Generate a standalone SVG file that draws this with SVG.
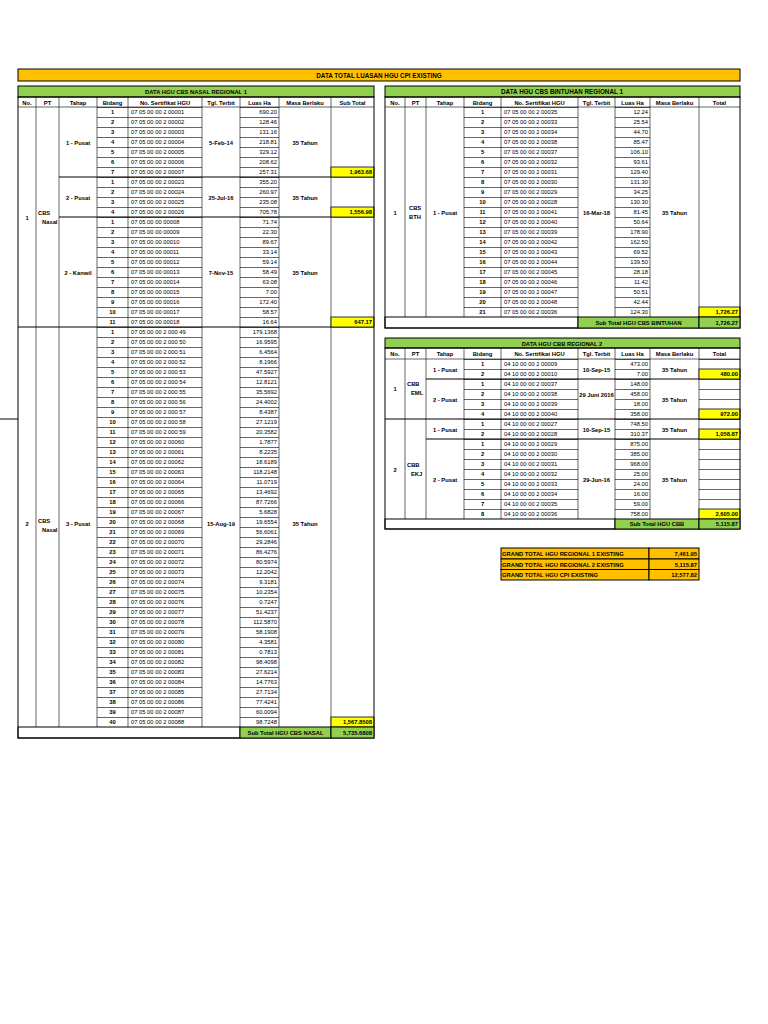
<svg xmlns="http://www.w3.org/2000/svg" width="768" height="1024" viewBox="0 0 768 1024">
<style>
text{font-family:"Liberation Sans",Arial,sans-serif;font-size:5.8px;fill:#000}
.b{font-weight:bold}
.h{font-weight:bold;font-size:6.3px}
.c{text-anchor:middle}
.r{text-anchor:end}
.g{fill:#92D050;stroke:#000;stroke-width:1}
.y{fill:#FFFF00;stroke:#000;stroke-width:0.8}
.o{fill:#FFC000;stroke:#000;stroke-width:1}
.box{fill:none;stroke:#000;stroke-width:1}
.thk{fill:none;stroke:#000;stroke-width:1.2}
.ln{fill:none;stroke:#000;stroke-width:0.6}
</style>
<defs>
<pattern id="rl7" patternUnits="userSpaceOnUse" x="0" y="7" width="10" height="10"><rect width="10" height="0.6" fill="#000"/></pattern>
<pattern id="rl9" patternUnits="userSpaceOnUse" x="0" y="9" width="10" height="10"><rect width="10" height="0.6" fill="#000"/></pattern>
</defs>
<rect width="768" height="1024" fill="#fff"/>
<g id="title"><rect class="o" x="18" y="69" width="722" height="12"/><text class="h c" x="379" y="77.5">DATA TOTAL LUASAN HGU CPI EXISTING</text></g>

<g id="left-table">
<rect class="g" x="18" y="86" width="356" height="11"/><text class="b c" x="196" y="94">DATA HGU CBS NASAL REGIONAL 1</text>
<rect fill="url(#rl7)" x="97" y="107" width="105" height="620"/>
<rect fill="url(#rl7)" x="240" y="107" width="39" height="620"/>
<g class="b c">
<text x="27" y="104.5">No.</text><text x="47.5" y="104.5">PT</text><text x="78" y="104.5">Tahap</text><text x="112.5" y="104.5">Bidang</text><text x="165" y="104.5">No. Sertifikat HGU</text><text x="221" y="104.5">Tgl. Terbit</text><text x="259.5" y="104.5">Luas Ha</text><text x="305" y="104.5">Masa Berlaku</text><text x="352.5" y="104.5">Sub Total</text>
</g>
<path class="ln" d="M18 107H374M36 97V727M59 97V727M97 97V727M128 97V727M202 97V727M240 97V727M279 97V727M331 97V727"/>
<path class="thk" d="M59 177H374M59 217H374M18 327H374"/>
<rect class="y" x="331" y="167" width="43" height="10"/><text class="b r" x="372" y="174.3">1,963.68</text>
<rect class="y" x="331" y="207" width="43" height="10"/><text class="b r" x="372" y="214.3">1,556.98</text>
<rect class="y" x="331" y="317" width="43" height="10"/><text class="b r" x="372" y="324.3">647.17</text>
<rect class="y" x="331" y="717" width="43" height="10"/><text class="b r" x="372" y="724.3">1,567.8508</text>
<rect class="box" x="18" y="97" width="356" height="641"/>
<rect class="box" x="18" y="727" width="222" height="11"/>
<rect class="g" x="240" y="727" width="91" height="11"/><text class="b c" x="285.5" y="734.5">Sub Total HGU CBS NASAL</text>
<rect class="g" x="331" y="727" width="43" height="11"/><text class="b r" x="372" y="734.5">5,735.6808</text>
<g class="b">
<text class="c" x="27" y="220">1</text><text x="38" y="215">CBS</text><text x="42" y="224">Nasal</text>
<text class="c" x="78" y="144.5">1 - Pusat</text><text class="c" x="221" y="144.5">5-Feb-14</text><text class="c" x="305" y="144.5">35 Tahun</text>
<text class="c" x="78" y="199.5">2 - Pusat</text><text class="c" x="221" y="199.5">25-Jul-16</text><text class="c" x="305" y="199.5">35 Tahun</text>
<text class="c" x="78" y="274.5">2 - Kanwil</text><text class="c" x="221" y="274.5">7-Nov-15</text><text class="c" x="305" y="274.5">35 Tahun</text>
<text class="c" x="27" y="525.5">2</text><text x="38" y="523">CBS</text><text x="42" y="532">Nasal</text>
<text class="c" x="78" y="525.5">3 - Pusat</text><text class="c" x="221" y="525.5">15-Aug-19</text><text class="c" x="305" y="525.5">35 Tahun</text>
</g>
<g class="b c">
<text x="112.5" y="114.3">1</text><text x="112.5" y="124.3">2</text><text x="112.5" y="134.3">3</text><text x="112.5" y="144.3">4</text><text x="112.5" y="154.3">5</text><text x="112.5" y="164.3">6</text><text x="112.5" y="174.3">7</text>
<text x="112.5" y="184.3">1</text><text x="112.5" y="194.3">2</text><text x="112.5" y="204.3">3</text><text x="112.5" y="214.3">4</text>
<text x="112.5" y="224.3">1</text><text x="112.5" y="234.3">2</text><text x="112.5" y="244.3">3</text><text x="112.5" y="254.3">4</text><text x="112.5" y="264.3">5</text><text x="112.5" y="274.3">6</text><text x="112.5" y="284.3">7</text><text x="112.5" y="294.3">8</text><text x="112.5" y="304.3">9</text><text x="112.5" y="314.3">10</text><text x="112.5" y="324.3">11</text>
<text x="112.5" y="334.3">1</text><text x="112.5" y="344.3">2</text><text x="112.5" y="354.3">3</text><text x="112.5" y="364.3">4</text><text x="112.5" y="374.3">5</text><text x="112.5" y="384.3">6</text><text x="112.5" y="394.3">7</text><text x="112.5" y="404.3">8</text><text x="112.5" y="414.3">9</text><text x="112.5" y="424.3">10</text>
<text x="112.5" y="434.3">11</text><text x="112.5" y="444.3">12</text><text x="112.5" y="454.3">13</text><text x="112.5" y="464.3">14</text><text x="112.5" y="474.3">15</text><text x="112.5" y="484.3">16</text><text x="112.5" y="494.3">17</text><text x="112.5" y="504.3">18</text><text x="112.5" y="514.3">19</text><text x="112.5" y="524.3">20</text>
<text x="112.5" y="534.3">21</text><text x="112.5" y="544.3">22</text><text x="112.5" y="554.3">23</text><text x="112.5" y="564.3">24</text><text x="112.5" y="574.3">25</text><text x="112.5" y="584.3">26</text><text x="112.5" y="594.3">27</text><text x="112.5" y="604.3">28</text><text x="112.5" y="614.3">29</text><text x="112.5" y="624.3">30</text>
<text x="112.5" y="634.3">31</text><text x="112.5" y="644.3">32</text><text x="112.5" y="654.3">33</text><text x="112.5" y="664.3">34</text><text x="112.5" y="674.3">35</text><text x="112.5" y="684.3">36</text><text x="112.5" y="694.3">37</text><text x="112.5" y="704.3">38</text><text x="112.5" y="714.3">39</text><text x="112.5" y="724.3">40</text>
</g>
<g>
<text x="131" y="114.3">07 05 00 00 2 00001</text><text x="131" y="124.3">07 05 00 00 2 00002</text><text x="131" y="134.3">07 05 00 00 2 00003</text><text x="131" y="144.3">07 05 00 00 2 00004</text><text x="131" y="154.3">07 05 00 00 2 00005</text><text x="131" y="164.3">07 05 00 00 2 00006</text><text x="131" y="174.3">07 05 00 00 2 00007</text>
<text x="131" y="184.3">07 05 00 00 2 00023</text><text x="131" y="194.3">07 05 00 00 2 00024</text><text x="131" y="204.3">07 05 00 00 2 00025</text><text x="131" y="214.3">07 05 00 00 2 00026</text>
<text x="131" y="224.3">07 05 00 00 00008</text><text x="131" y="234.3">07 05 00 00 00009</text><text x="131" y="244.3">07 05 00 00 00010</text><text x="131" y="254.3">07 05 00 00 00011</text><text x="131" y="264.3">07 05 00 00 00012</text><text x="131" y="274.3">07 05 00 00 00013</text><text x="131" y="284.3">07 05 00 00 00014</text><text x="131" y="294.3">07 05 00 00 00015</text><text x="131" y="304.3">07 05 00 00 00016</text><text x="131" y="314.3">07 05 00 00 00017</text><text x="131" y="324.3">07 05 00 00 00018</text>
<text x="131" y="334.3">07 05 00 00 2 000 49</text><text x="131" y="344.3">07 05 00 00 2 000 50</text><text x="131" y="354.3">07 05 00 00 2 000 51</text><text x="131" y="364.3">07 05 00 00 2 000 52</text><text x="131" y="374.3">07 05 00 00 2 000 53</text><text x="131" y="384.3">07 05 00 00 2 000 54</text><text x="131" y="394.3">07 05 00 00 2 000 55</text><text x="131" y="404.3">07 05 00 00 2 000 56</text><text x="131" y="414.3">07 05 00 00 2 000 57</text><text x="131" y="424.3">07 05 00 00 2 000 58</text>
<text x="131" y="434.3">07 05 00 00 2 000 59</text><text x="131" y="444.3">07 05 00 00 2 00060</text><text x="131" y="454.3">07 05 00 00 2 00061</text><text x="131" y="464.3">07 05 00 00 2 00062</text><text x="131" y="474.3">07 05 00 00 2 00063</text><text x="131" y="484.3">07 05 00 00 2 00064</text><text x="131" y="494.3">07 05 00 00 2 00065</text><text x="131" y="504.3">07 05 00 00 2 00066</text><text x="131" y="514.3">07 05 00 00 2 00067</text><text x="131" y="524.3">07 05 00 00 2 00068</text>
<text x="131" y="534.3">07 05 00 00 2 00069</text><text x="131" y="544.3">07 05 00 00 2 00070</text><text x="131" y="554.3">07 05 00 00 2 00071</text><text x="131" y="564.3">07 05 00 00 2 00072</text><text x="131" y="574.3">07 05 00 00 2 00073</text><text x="131" y="584.3">07 05 00 00 2 00074</text><text x="131" y="594.3">07 05 00 00 2 00075</text><text x="131" y="604.3">07 05 00 00 2 00076</text><text x="131" y="614.3">07 05 00 00 2 00077</text><text x="131" y="624.3">07 05 00 00 2 00078</text>
<text x="131" y="634.3">07 05 00 00 2 00079</text><text x="131" y="644.3">07 05 00 00 2 00080</text><text x="131" y="654.3">07 05 00 00 2 00081</text><text x="131" y="664.3">07 05 00 00 2 00082</text><text x="131" y="674.3">07 05 00 00 2 00083</text><text x="131" y="684.3">07 05 00 00 2 00084</text><text x="131" y="694.3">07 05 00 00 2 00085</text><text x="131" y="704.3">07 05 00 00 2 00086</text><text x="131" y="714.3">07 05 00 00 2 00087</text><text x="131" y="724.3">07 05 00 00 2 00088</text>
</g>
<g class="r">
<text x="277" y="114.3">690.20</text><text x="277" y="124.3">128.46</text><text x="277" y="134.3">131.16</text><text x="277" y="144.3">218.81</text><text x="277" y="154.3">329.12</text><text x="277" y="164.3">208.62</text><text x="277" y="174.3">257.31</text>
<text x="277" y="184.3">355.20</text><text x="277" y="194.3">260.97</text><text x="277" y="204.3">235.08</text><text x="277" y="214.3">705.78</text>
<text x="277" y="224.3">71.74</text><text x="277" y="234.3">22.30</text><text x="277" y="244.3">89.67</text><text x="277" y="254.3">33.14</text><text x="277" y="264.3">59.14</text><text x="277" y="274.3">58.49</text><text x="277" y="284.3">63.08</text><text x="277" y="294.3">7.00</text><text x="277" y="304.3">172.40</text><text x="277" y="314.3">58.57</text><text x="277" y="324.3">16.64</text>
<text x="277" y="334.3">179.1368</text><text x="277" y="344.3">16.9595</text><text x="277" y="354.3">6.4564</text><text x="277" y="364.3">8.1966</text><text x="277" y="374.3">47.5927</text><text x="277" y="384.3">12.8121</text><text x="277" y="394.3">35.5692</text><text x="277" y="404.3">24.4002</text><text x="277" y="414.3">8.4387</text><text x="277" y="424.3">27.1219</text>
<text x="277" y="434.3">20.3582</text><text x="277" y="444.3">1.7877</text><text x="277" y="454.3">8.2235</text><text x="277" y="464.3">18.6189</text><text x="277" y="474.3">118.2148</text><text x="277" y="484.3">11.0719</text><text x="277" y="494.3">13.4692</text><text x="277" y="504.3">87.7266</text><text x="277" y="514.3">5.6828</text><text x="277" y="524.3">19.6554</text>
<text x="277" y="534.3">56.6061</text><text x="277" y="544.3">29.2846</text><text x="277" y="554.3">86.4276</text><text x="277" y="564.3">80.5974</text><text x="277" y="574.3">12.2042</text><text x="277" y="584.3">9.3181</text><text x="277" y="594.3">10.2354</text><text x="277" y="604.3">0.7247</text><text x="277" y="614.3">51.4237</text><text x="277" y="624.3">112.5870</text>
<text x="277" y="634.3">58.1908</text><text x="277" y="644.3">4.3581</text><text x="277" y="654.3">0.7813</text><text x="277" y="664.3">98.4098</text><text x="277" y="674.3">27.6214</text><text x="277" y="684.3">14.7763</text><text x="277" y="694.3">27.7134</text><text x="277" y="704.3">77.4241</text><text x="277" y="714.3">60.0094</text><text x="277" y="724.3">98.7248</text>
</g>
</g>

<g id="right-top-table">
<rect class="g" x="385" y="86" width="355" height="11"/><text class="h c" x="562" y="94.3">DATA HGU CBS BINTUHAN REGIONAL 1</text>
<rect fill="url(#rl7)" x="464" y="107" width="114" height="210"/>
<rect fill="url(#rl7)" x="615" y="107" width="35" height="210"/>
<g class="b c">
<text x="395" y="104.5">No.</text><text x="415.5" y="104.5">PT</text><text x="445" y="104.5">Tahap</text><text x="482.5" y="104.5">Bidang</text><text x="539.5" y="104.5">No. Sertifikat HGU</text><text x="596.5" y="104.5">Tgl. Terbit</text><text x="632.5" y="104.5">Luas Ha</text><text x="674.5" y="104.5">Masa Berlaku</text><text x="719.5" y="104.5">Total</text>
</g>
<path class="ln" d="M385 107H740M405 97V317M426 97V317M464 97V317M501 97V317M578 97V317M615 97V317M650 97V317M699 97V317"/>
<rect class="y" x="699" y="307" width="41" height="10"/><text class="b r" x="738" y="314.3">1,726.27</text>
<rect class="box" x="385" y="97" width="355" height="231"/>
<rect class="box" x="385" y="317" width="193" height="11"/>
<rect class="g" x="578" y="317" width="121" height="11"/><text class="b c" x="638.5" y="324.5">Sub Total HGU CBS BINTUHAN</text>
<rect class="g" x="699" y="317" width="41" height="11"/><text class="b r" x="738" y="324.5">1,726.27</text>
<g class="b">
<text class="c" x="395" y="214.5">1</text><text x="409" y="210">CBS</text><text x="409" y="219">BTH</text>
<text class="c" x="445" y="214.5">1 - Pusat</text><text class="c" x="596.5" y="214.5">16-Mar-18</text><text class="c" x="674.5" y="214.5">35 Tahun</text>
</g>
<g class="b c">
<text x="482.5" y="114.3">1</text><text x="482.5" y="124.3">2</text><text x="482.5" y="134.3">3</text><text x="482.5" y="144.3">4</text><text x="482.5" y="154.3">5</text><text x="482.5" y="164.3">6</text><text x="482.5" y="174.3">7</text><text x="482.5" y="184.3">8</text><text x="482.5" y="194.3">9</text><text x="482.5" y="204.3">10</text><text x="482.5" y="214.3">11</text><text x="482.5" y="224.3">12</text><text x="482.5" y="234.3">13</text><text x="482.5" y="244.3">14</text><text x="482.5" y="254.3">15</text><text x="482.5" y="264.3">16</text><text x="482.5" y="274.3">17</text><text x="482.5" y="284.3">18</text><text x="482.5" y="294.3">19</text><text x="482.5" y="304.3">20</text><text x="482.5" y="314.3">21</text>
</g>
<g>
<text x="504" y="114.3">07 05 00 00 2 00035</text><text x="504" y="124.3">07 05 00 00 2 00033</text><text x="504" y="134.3">07 05 00 00 2 00034</text><text x="504" y="144.3">07 05 00 00 2 00038</text><text x="504" y="154.3">07 05 00 00 2 00037</text><text x="504" y="164.3">07 05 00 00 2 00032</text><text x="504" y="174.3">07 05 00 00 2 00031</text><text x="504" y="184.3">07 05 00 00 2 00030</text><text x="504" y="194.3">07 05 00 00 2 00029</text><text x="504" y="204.3">07 05 00 00 2 00028</text><text x="504" y="214.3">07 05 00 00 2 00041</text>
<text x="504" y="224.3">07 05 00 00 2 00040</text><text x="504" y="234.3">07 05 00 00 2 00039</text><text x="504" y="244.3">07 05 00 00 2 00042</text><text x="504" y="254.3">07 05 00 00 2 00043</text><text x="504" y="264.3">07 05 00 00 2 00044</text><text x="504" y="274.3">07 05 00 00 2 00045</text><text x="504" y="284.3">07 05 00 00 2 00046</text><text x="504" y="294.3">07 05 00 00 2 00047</text><text x="504" y="304.3">07 05 00 00 2 00048</text><text x="504" y="314.3">07 05 00 00 2 00036</text>
</g>
<g class="r">
<text x="648" y="114.3">12.24</text><text x="648" y="124.3">25.54</text><text x="648" y="134.3">44.70</text><text x="648" y="144.3">85.47</text><text x="648" y="154.3">106.10</text><text x="648" y="164.3">93.61</text><text x="648" y="174.3">129.40</text><text x="648" y="184.3">131.30</text><text x="648" y="194.3">34.25</text><text x="648" y="204.3">130.30</text><text x="648" y="214.3">81.45</text>
<text x="648" y="224.3">50.64</text><text x="648" y="234.3">178.90</text><text x="648" y="244.3">162.50</text><text x="648" y="254.3">69.52</text><text x="648" y="264.3">139.50</text><text x="648" y="274.3">28.18</text><text x="648" y="284.3">11.42</text><text x="648" y="294.3">50.51</text><text x="648" y="304.3">42.44</text><text x="648" y="314.3">124.30</text>
</g>
</g>

<g id="right-bottom-table">
<rect class="g" x="385" y="338" width="355" height="10"/><text class="b c" x="562" y="345.5">DATA HGU CBB REGIONAL 2</text>
<rect fill="url(#rl9)" x="464" y="359" width="114" height="160"/>
<rect fill="url(#rl9)" x="615" y="359" width="35" height="160"/>
<rect fill="url(#rl9)" x="699" y="359" width="41" height="160"/>
<g class="b c">
<text x="395" y="356">No.</text><text x="415.5" y="356">PT</text><text x="445" y="356">Tahap</text><text x="482.5" y="356">Bidang</text><text x="539.5" y="356">No. Sertifikat HGU</text><text x="596.5" y="356">Tgl. Terbit</text><text x="632.5" y="356">Luas Ha</text><text x="674.5" y="356">Masa Berlaku</text><text x="719.5" y="356">Total</text>
</g>
<path class="ln" d="M385 359H740M405 348V519M426 348V519M464 348V519M501 348V519M578 348V519M615 348V519M650 348V519M699 348V519"/>
<path class="thk" d="M426 379H699M18 419H0M385 419H740M426 439H699"/>
<rect class="y" x="699" y="369" width="41" height="10"/><text class="b r" x="738" y="376.3">480.00</text>
<rect class="y" x="699" y="409" width="41" height="10"/><text class="b r" x="738" y="416.3">972.00</text>
<rect class="y" x="699" y="429" width="41" height="10"/><text class="b r" x="738" y="436.3">1,058.87</text>
<rect class="y" x="699" y="509" width="41" height="10"/><text class="b r" x="738" y="516.3">2,605.00</text>
<rect class="box" x="385" y="348" width="355" height="181"/>
<rect class="box" x="385" y="519" width="230" height="10"/>
<rect class="g" x="615" y="519" width="84" height="10"/><text class="b c" x="657" y="526.3">Sub Total HGU CBB</text>
<rect class="g" x="699" y="519" width="41" height="10"/><text class="b r" x="738" y="526.3">5,115.87</text>
<g class="b">
<text class="c" x="395" y="391">1</text><text x="407" y="386">CBB</text><text x="411" y="395">EML</text>
<text class="c" x="445" y="371.5">1 - Pusat</text><text class="c" x="596.5" y="371.5">10-Sep-15</text><text class="c" x="674.5" y="371.5">35 Tahun</text>
<text class="c" x="445" y="401.5">2 - Pusat</text><text class="c" x="596.5" y="396.5">29 Juni 2016</text><text class="c" x="674.5" y="401.5">35 Tahun</text>
<text class="c" x="395" y="471.5">2</text><text x="407" y="467">CBB</text><text x="411" y="476">EKJ</text>
<text class="c" x="445" y="431.5">1 - Pusat</text><text class="c" x="596.5" y="431.5">10-Sep-15</text><text class="c" x="674.5" y="431.5">35 Tahun</text>
<text class="c" x="445" y="481.5">2 - Pusat</text><text class="c" x="596.5" y="481.5">29-Jun-16</text><text class="c" x="674.5" y="481.5">35 Tahun</text>
</g>
<g class="b c">
<text x="482.5" y="366.3">1</text><text x="482.5" y="376.3">2</text><text x="482.5" y="386.3">1</text><text x="482.5" y="396.3">2</text><text x="482.5" y="406.3">3</text><text x="482.5" y="416.3">4</text><text x="482.5" y="426.3">1</text><text x="482.5" y="436.3">2</text><text x="482.5" y="446.3">1</text><text x="482.5" y="456.3">2</text><text x="482.5" y="466.3">3</text><text x="482.5" y="476.3">4</text><text x="482.5" y="486.3">5</text><text x="482.5" y="496.3">6</text><text x="482.5" y="506.3">7</text><text x="482.5" y="516.3">8</text>
</g>
<g>
<text x="504" y="366.3">04 10 00 00 2 00009</text><text x="504" y="376.3">04 10 00 00 2 00010</text><text x="504" y="386.3">04 10 00 00 2 00037</text><text x="504" y="396.3">04 10 00 00 2 00038</text><text x="504" y="406.3">04 10 00 00 2 00039</text><text x="504" y="416.3">04 10 00 00 2 00040</text><text x="504" y="426.3">04 10 00 00 2 00027</text><text x="504" y="436.3">04 10 00 00 2 00028</text>
<text x="504" y="446.3">04 10 00 00 2 00029</text><text x="504" y="456.3">04 10 00 00 2 00030</text><text x="504" y="466.3">04 10 00 00 2 00031</text><text x="504" y="476.3">04 10 00 00 2 00032</text><text x="504" y="486.3">04 10 00 00 2 00033</text><text x="504" y="496.3">04 10 00 00 2 00034</text><text x="504" y="506.3">04 10 00 00 2 00035</text><text x="504" y="516.3">04 10 00 00 2 00036</text>
</g>
<g class="r">
<text x="648" y="366.3">473.00</text><text x="648" y="376.3">7.00</text><text x="648" y="386.3">148.00</text><text x="648" y="396.3">458.00</text><text x="648" y="406.3">18.00</text><text x="648" y="416.3">358.00</text><text x="648" y="426.3">748.50</text><text x="648" y="436.3">310.37</text>
<text x="648" y="446.3">875.00</text><text x="648" y="456.3">385.00</text><text x="648" y="466.3">968.00</text><text x="648" y="476.3">25.00</text><text x="648" y="486.3">24.00</text><text x="648" y="496.3">16.00</text><text x="648" y="506.3">59.00</text><text x="648" y="516.3">758.00</text>
</g>
</g>

<g id="grand-total">
<rect class="o" x="501" y="548" width="148" height="11"/><rect class="o" x="649" y="548" width="50" height="11"/>
<rect class="o" x="501" y="559" width="148" height="10.5"/><rect class="o" x="649" y="559" width="50" height="10.5"/>
<rect class="o" x="501" y="569.5" width="148" height="10.5"/><rect class="o" x="649" y="569.5" width="50" height="10.5"/>
<text class="b" x="502" y="556">GRAND TOTAL HGU REGIONAL 1 EXISTING</text><text class="b r" x="697" y="556">7,461.95</text>
<text class="b" x="502" y="566.5">GRAND TOTAL HGU REGIONAL 2 EXISTING</text><text class="b r" x="697" y="566.5">5,115.87</text>
<text class="b" x="502" y="577">GRAND TOTAL HGU CPI EXISTING</text><text class="b r" x="697" y="577">12,577.82</text>
</g>
</svg>
